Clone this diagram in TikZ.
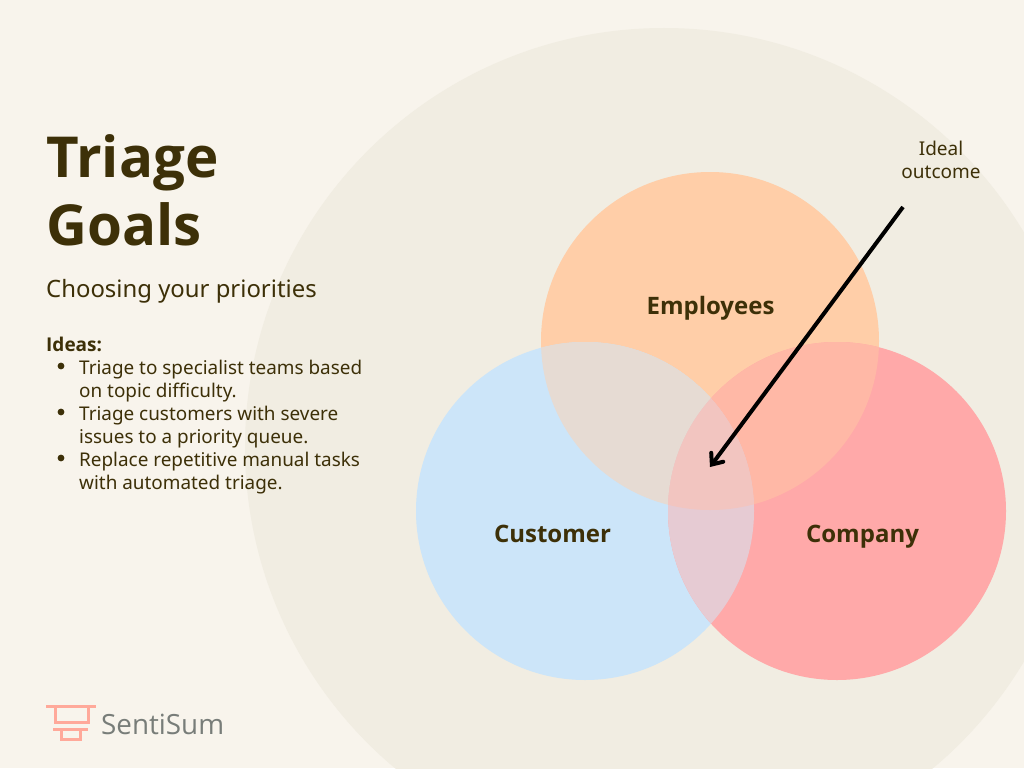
\documentclass[tikz,border=0pt]{standalone}
\usepackage{fontspec}
\setmainfont{Noto Sans}
\newfontfamily\logofont{Open Sans}
\newfontfamily\headfont{Open Sans}
\usetikzlibrary{arrows.meta}
\definecolor{bgcol}{HTML}{F8F4EC}
\definecolor{ringcol}{HTML}{F1EDE2}
\definecolor{inkcol}{HTML}{3D3008}
\definecolor{empcol}{HTML}{FFCEA8}
\definecolor{cuscol}{HTML}{CCE5F9}
\definecolor{comcol}{HTML}{FFA9A9}
\definecolor{eccol}{HTML}{E6DBD3}
\definecolor{emcocol}{HTML}{FFB8A6}
\definecolor{cccol}{HTML}{E6CBD3}
\definecolor{allcol}{HTML}{F2C5C0}
\definecolor{logocol}{HTML}{FFA99A}
\definecolor{logotext}{HTML}{787D79}
\tikzset{
  line/.style={anchor=base west,inner sep=0pt,text=inkcol,font=\fontsize{18.9}{22}\selectfont},
  head/.style={anchor=base west,inner sep=0pt,text=inkcol,font=\headfont\fontsize{56.5}{64}\selectfont\bfseries},
  setname/.style={anchor=base,inner sep=0pt,text=inkcol,font=\headfont\fontsize{24}{28}\selectfont\bfseries},
  logoline/.style={draw=logocol,line width=3pt},
}
\newcommand{\empc}{(710,341) circle (169)}
\newcommand{\cusc}{(585,511) circle (169)}
\newcommand{\comc}{(837,511) circle (169)}
\begin{document}
\begin{tikzpicture}[>=stealth,x=1pt,y=-1pt]
	\useasboundingbox (0,0) rectangle (1024,768);
	\fill[bgcol] (0,0) rectangle (1024,768);
	\begin{scope}
		\clip (0,0) rectangle (1024,768);
		\fill[ringcol] (664,447) circle (419);
	\end{scope}
	% the three sets and their overlaps
	\fill[empcol] \empc;
	\fill[cuscol] \cusc;
	\fill[comcol] \comc;
	\begin{scope}
		\clip \empc;
		\fill[eccol] \cusc;
		\fill[emcocol] \comc;
	\end{scope}
	\begin{scope}
		\clip \cusc;
		\fill[cccol] \comc;
	\end{scope}
	\begin{scope}
		\clip \empc;
		\clip \cusc;
		\fill[allcol] \comc;
	\end{scope}
	% left column
	\node[head] (titleone) at (46,177) {Triage};
	\node[head] (titletwo) at (46,245) {Goals};
	\node[line,font=\fontsize{23.9}{28}\selectfont] (subtitle) at (46,297) {Choosing your priorities};
	\node[line,font=\headfont\fontsize{19}{22}\selectfont\bfseries] (ideas) at (46,351) {Ideas:};
	\foreach \i/\y/\t in {a/374/Triage to specialist teams based,
		b/397/on topic difficulty.,
		c/420/Triage customers with severe,
		d/443/issues to a priority queue.,
		e/466/Replace repetitive manual tasks,
		f/489/with automated triage.}
		{\node[line] (item\i) at (79,\y) {\t};}
	\foreach \y in {366,412,458}{\fill[inkcol] (61,\y) circle (3.4);}
	% set names
	\node[setname] (employees) at (710.5,314) {Employees};
	\node[setname] (customer) at (552.5,542) {Customer};
	\node[setname] (company) at (862.5,542) {Company};
	\node[anchor=base,inner sep=0pt,align=center,text=inkcol,font=\fontsize{19}{23}\selectfont] (ideal) at (941,155) {Ideal};
	\node[anchor=base,inner sep=0pt,text=inkcol,font=\fontsize{19}{23}\selectfont] (outcome) at (941,178) {outcome};
	\coordinate (arrowstart) at (903,207);
	\coordinate (arrowend) at (710,467);
	\draw[-{Straight Barb[length=9pt,width=15pt,line cap=round]},line width=4pt,black] (arrowstart)--(arrowend);
	% logo
	\draw[logoline] (46,706)--(96,706) (55,706)--(55,722)--(88,722)--(88,706) (53,729.5)--(88,729.5) (61,729.5)--(61,739)--(80,739)--(80,729.5);
	\node[anchor=base west,inner sep=0pt,text=logotext,font=\logofont\fontsize{27.8}{32}\selectfont] (logo) at (101,734) {SentiSum};
\end{tikzpicture}
\end{document}
